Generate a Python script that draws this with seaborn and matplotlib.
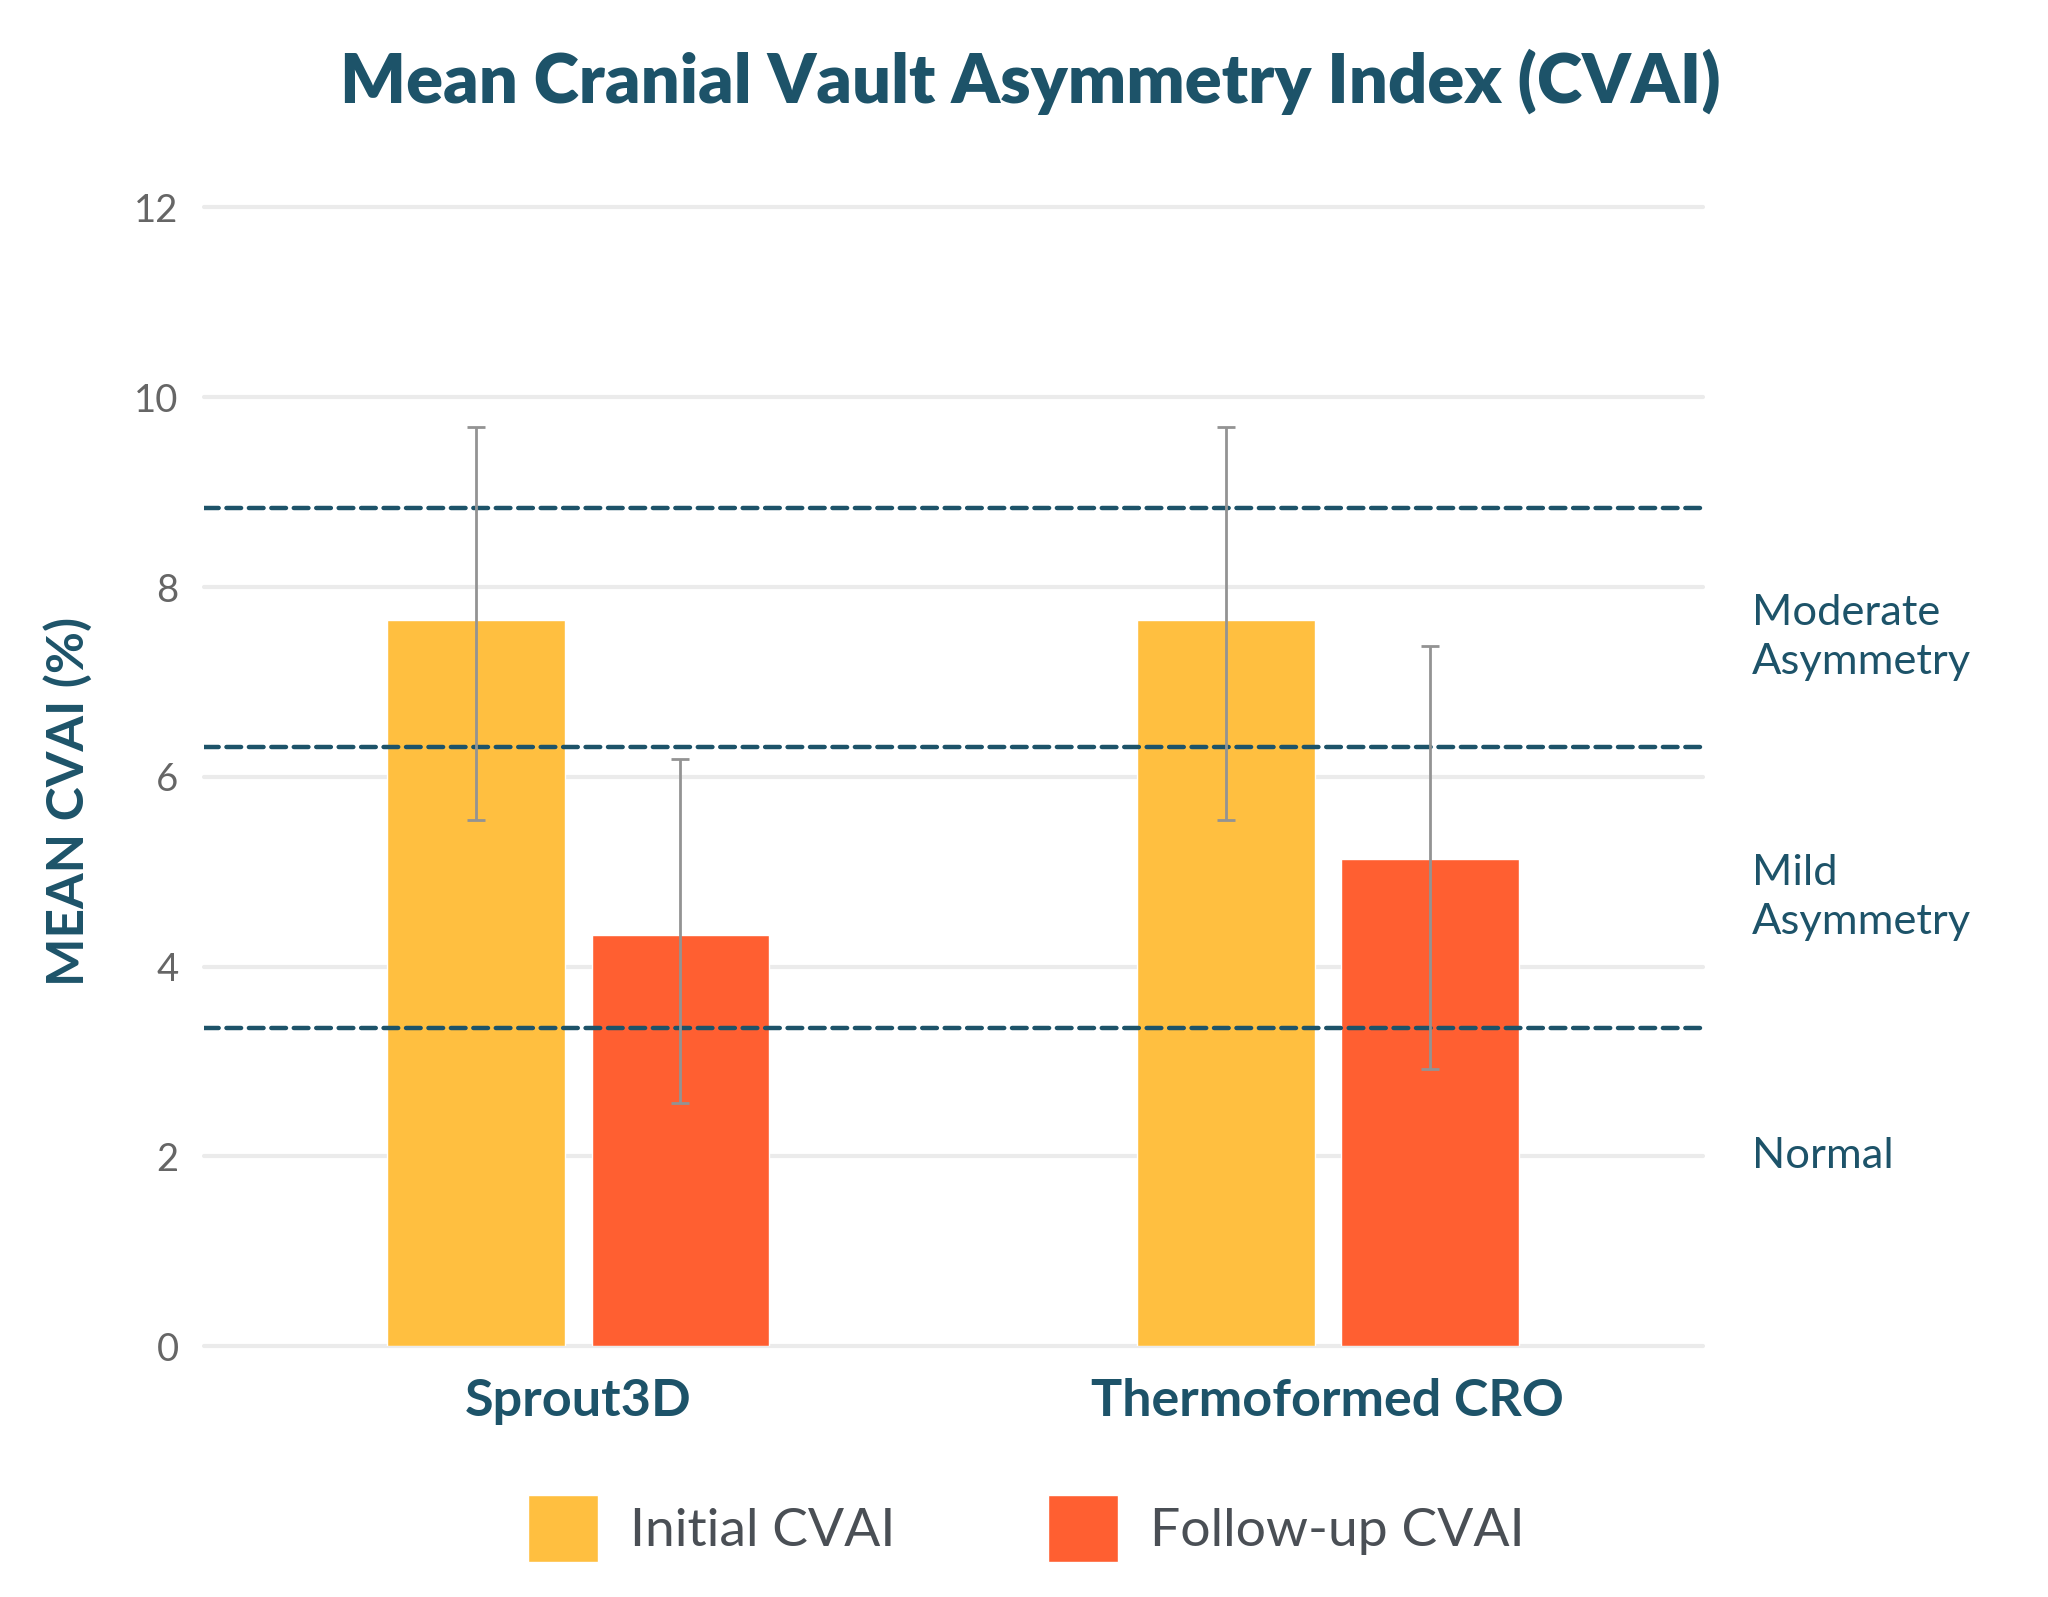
import pandas as pd
import matplotlib.pyplot as plt
import seaborn as sns

# Chart values
devices = ["Sprout3D", "Thermoformed CRO"]
timepoints = ["Initial CVAI", "Follow-up CVAI"]
initial_mean = [7.65, 7.65]
followup_mean = [4.33, 5.13]
initial_low = [5.54, 5.54]
initial_high = [9.69, 9.69]
followup_low = [2.56, 2.92]
followup_high = [6.19, 7.38]
thresholds = [8.83, 6.31, 3.35]
zone_labels = ["Moderate\nAsymmetry", "Mild\nAsymmetry", "Normal"]
zone_label_y = [7.47, 4.73, 2.0]
y_ticks = [0, 2, 4, 6, 8, 10, 12]

teal = "#1D5369"
yellow = "#FFBF40"
orange = "#FF5F31"

sns.set_theme(style="white")
plt.rcParams['font.family'] = ['Lato', 'DejaVu Sans']

df = pd.DataFrame({
    "Device": devices * 2,
    "Timepoint": [timepoints[0]] * 2 + [timepoints[1]] * 2,
    "CVAI": initial_mean + followup_mean,
})

fig = plt.figure(figsize=(20.48, 15.97), dpi=100)
ax = fig.add_axes([0.0994, 0.1571, 0.732, 0.713])

sns.barplot(data=df, x="Device", y="CVAI", hue="Timepoint", hue_order=timepoints,
            palette=[yellow, orange], width=0.545, gap=0.13, errorbar=None,
            saturation=1, ax=ax, zorder=2)

# Error bars at the bar centres
lows = [initial_low, followup_low]
highs = [initial_high, followup_high]
means = [initial_mean, followup_mean]
bar_containers = list(ax.containers)
for i, cont in enumerate(bar_containers):
    xs = [p.get_x() + p.get_width() / 2 for p in cont.patches]
    yerr = [[m - lo for m, lo in zip(means[i], lows[i])],
            [hi - m for m, hi in zip(means[i], highs[i])]]
    ax.errorbar(xs, means[i], yerr=yerr, fmt="none", ecolor="#939393",
                elinewidth=2.0, capsize=6.5, capthick=2.0, zorder=4)

# Severity thresholds
for t in thresholds:
    ax.axhline(t, color=teal, linestyle=(0, (3.3, 1.75)), linewidth=3.2,
               dash_capstyle="round", zorder=3)

for lab, yv in zip(zone_labels, zone_label_y):
    ax.text(1.033, yv, lab, transform=ax.get_yaxis_transform(), color=teal,
            fontsize=31.3, va="center", ha="left", linespacing=1.35)

ax.set_xlim(-0.5, 1.5)
ax.set_ylim(0, 12)
ax.set_yticks(y_ticks)
ax.yaxis.grid(True, color="#EBEBEB", linewidth=3)
for gl in ax.get_ygridlines():
    gl.set_clip_on(False)
ax.set_axisbelow(True)
sns.despine(ax=ax, left=True, bottom=True)
ax.tick_params(axis="y", length=0, pad=18, labelsize=27.5, labelcolor="#666666")
ax.tick_params(axis="x", length=0, pad=23, labelsize=37.5)
for lbl in ax.get_xticklabels():
    lbl.set_fontweight("bold")
    lbl.set_color(teal)
ax.set_xlabel("")
ax.set_ylabel("")
fig.text(0.0335, 0.498, "MEAN CVAI (%)", rotation=90, fontsize=37,
         fontweight="bold", color=teal, ha="center", va="center")

fig.suptitle("Mean Cranial Vault Asymmetry Index (CVAI)", x=0.503, y=0.949,
             fontsize=49.5, fontweight="heavy", color=teal, va="center")

handles, labels = ax.get_legend_handles_labels()
ax.legend_.remove()
fig.legend(handles, labels, loc="center", bbox_to_anchor=(0.501, 0.043), ncol=2,
           frameon=False, fontsize=38.5, labelcolor="#4A4F55", handlelength=1.31,
           handleheight=1.56, handletextpad=0.6, columnspacing=2.85)

plt.savefig("out.png", dpi=100)
